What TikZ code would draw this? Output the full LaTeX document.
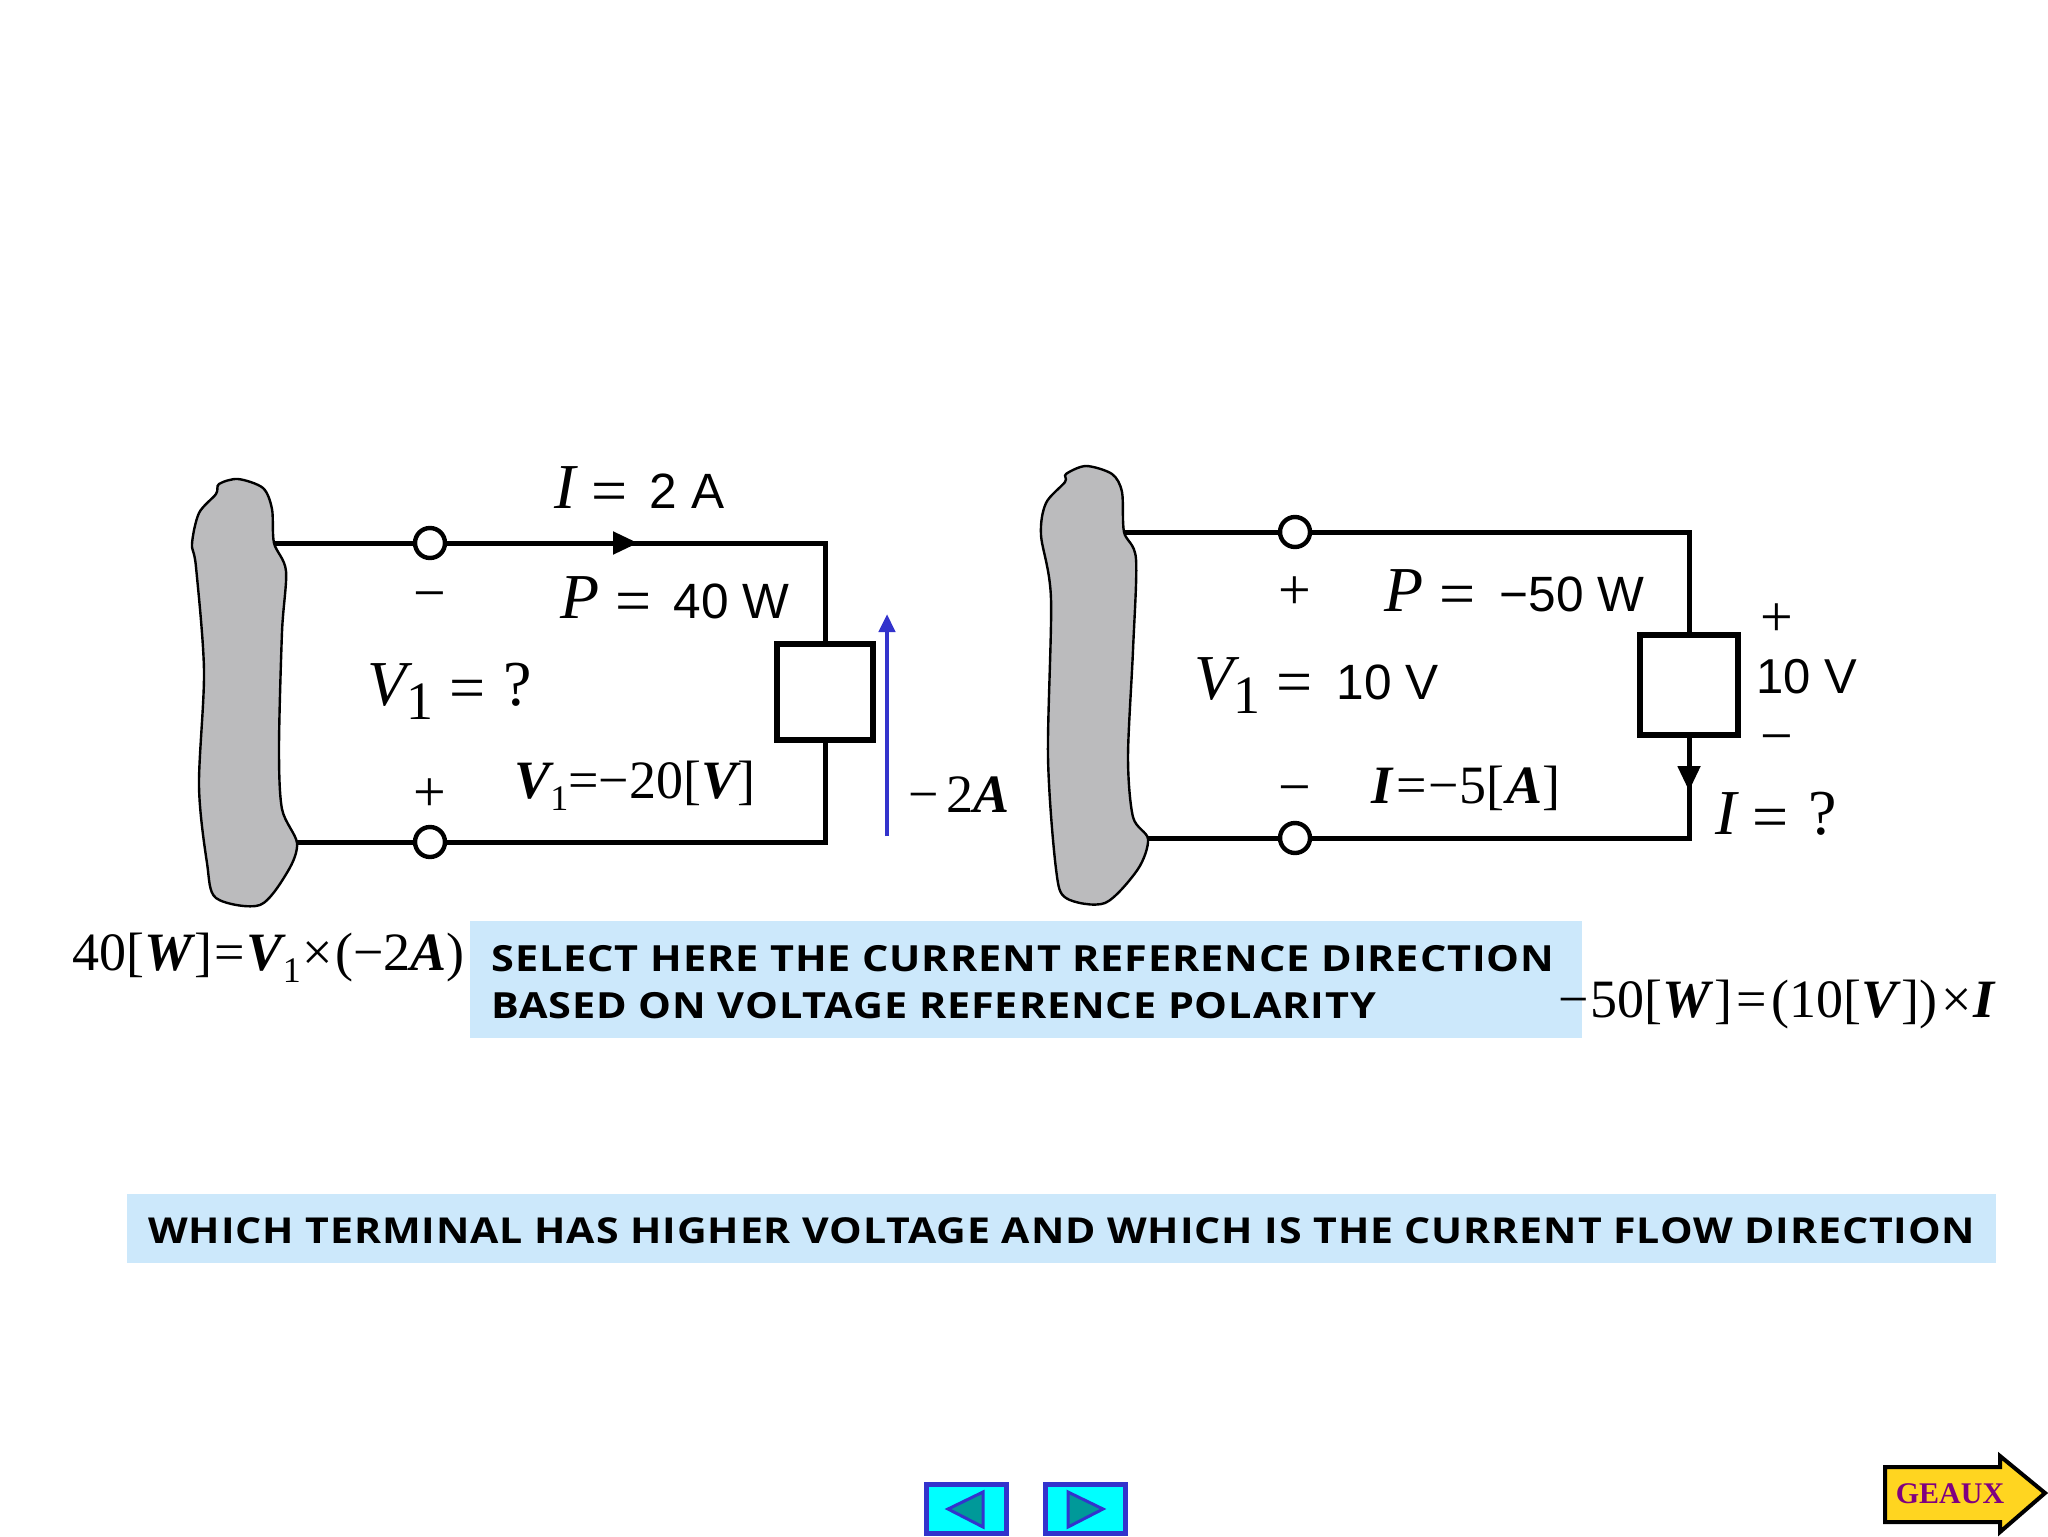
\documentclass[tikz,border=0pt]{standalone}
\usepackage{fontspec}
\setmainfont{Liberation Serif}
\setsansfont{Liberation Sans}
\newfontfamily\promptfont[FakeStretch=1.15,LetterSpace=2.5]{Open Sans}
\usetikzlibrary{arrows.meta}
\definecolor{blobgray}{HTML}{BBBBBD}
\definecolor{promptblue}{HTML}{CCE8FB}
\definecolor{arrowblue}{HTML}{3333CC}
\definecolor{navcyan}{HTML}{00FFFF}
\definecolor{navteal}{HTML}{009999}
\definecolor{geauxgold}{HTML}{FFD520}
\definecolor{geauxpurple}{HTML}{800080}
\newcommand{\bvar}[1]{{\bfseries\itshape #1}}
\newcommand{\subone}[2]{\raisebox{#1}{\fontsize{#2}{#2}\selectfont 1}}
\newcommand{\eqs}{\raisebox{-2pt}{\upshape=}}
\newcommand{\uni}[1]{{\fontsize{24.8}{28}\selectfont\sffamily\upshape #1}}
\tikzset{
	circuit/.style={
		x=0.5pt,y=-0.5pt,
		blob/.style={
			draw=black,
			line width=1.2pt,
			fill=blobgray
		},
		wire/.style={
			line width=2.5pt,
			line join=miter
		},
		wire arrow/.style={
			wire,
			-{Triangle[length=12.5pt,width=11pt]}
		},
		terminal/.style={
			circle,
			draw,
			fill=white,
			line width=2.2pt,
			minimum size=15pt,
			inner sep=0pt
		},
		element/.style={
			rectangle,
			draw,
			fill=white,
			line width=2.6pt,
			inner sep=0pt
		},
		sign/.style={
			inner sep=0pt,
			font=\fontsize{29}{30}\selectfont
		},
		big label/.style={
			anchor=base west,
			inner sep=0pt,
			font=\fontsize{32}{36}\selectfont\itshape
		},
		unit label/.style={
			anchor=base west,
			inner sep=0pt,
			font=\fontsize{24.5}{28}\selectfont\sffamily
		},
		sum label/.style={
			anchor=base west,
			inner sep=0pt,
			font=\fontsize{27}{30}\selectfont
		},
		prompt/.style={
			fill=promptblue,
			inner sep=0pt
		},
		prompt text/.style={
			anchor=base west,
			inner sep=0pt,
			align=left,
			font=\fontsize{##1}{23.5}\selectfont\promptfont\bfseries
		},
		nav button/.style={
			draw=arrowblue,
			fill=navcyan,
			line width=2.5pt
		},
		nav mark/.style={
			draw=arrowblue,
			fill=navteal,
			line width=1.5pt,
			line join=miter
		}
	}
}
\begin{document}
\begin{tikzpicture}[circuit]
	\useasboundingbox (0,0) rectangle (2048,1536);
	% prompts
	\fill[prompt] (470,921) rectangle (1582,1038);
	\node[prompt text=18] (selecttext) at (491,1018) {SELECT HERE THE CURRENT REFERENCE DIRECTION\\BASED ON VOLTAGE REFERENCE POLARITY};
	\fill[prompt] (127,1194) rectangle (1996,1263);
	\node[prompt text=17.85] (whichtext) at (148,1243) {WHICH TERMINAL HAS HIGHER VOLTAGE AND WHICH IS THE CURRENT FLOW DIRECTION};
	% left circuit
	\draw[blob] plot[smooth cycle,tension=0.5] coordinates {(238,479) (263,488) (272,509) (274,543) (286,571) (282,632) (279,748) (282,809) (297,843) (288,871) (260,905) (216,898) (207,863) (199,786) (204,671) (196,567) (192,544) (199,513) (216,494) (219,484)};
	\coordinate (lefttopend) at (274,543);
	\coordinate (leftbotend) at (297,842);
	\coordinate (lefttip) at (638,543);
	\coordinate (lefttopcorner) at (825,543);
	\coordinate (leftbotcorner) at (825,842);
	\node[element,minimum width=48pt,minimum height=48pt] (leftbox) at (825,692) {};
	\node[terminal] (lefttop) at (430,543) {};
	\node[terminal] (leftbot) at (430,842) {};
	\draw[wire] (lefttopend) -- (lefttop) -- (lefttopcorner) -- (leftbox.north);
	\draw[wire arrow] (lefttop) -- (lefttip);
	\draw[wire] (leftbotend) -- (leftbot) -- (leftbotcorner) -- (leftbox.south);
	\coordinate (bluestart) at (887,836);
	\coordinate (blueend) at (887,614);
	\draw[arrowblue,line width=2.2pt,-{Triangle[length=9pt,width=8pt]}] (bluestart) -- (blueend);
	\node[sign] (leftminus) at (430,602) {−};
	\node[sign] (leftplus) at (430,795) {+};
	\node[big label] (lefti) at (554,508) {I \eqs\kern3pt\ \uni{2 A}};
	\node[big label] (leftp) at (560,618) {P \eqs\kern3pt\ \uni{40 W}};
	\node[big label] (leftv) at (367,705) {V\raisebox{-7pt}{\upshape\fontsize{27}{28}\selectfont 1} {\eqs\ \kern1pt\upshape ?}};
	\node[sum label] (leftans) at (514,798) {\bvar{V}\subone{-6pt}{18}=−20[\bvar{V}]};
	\node[sum label] (leftcur) at (908,812) {−\kern4pt 2\bvar{A}};
	\node[sum label] (leftsum) at (72,970) {40[\bvar{W}\kern1pt]\kern1pt=\kern1pt\bvar{V}\subone{-6pt}{18}\kern1pt×\kern1pt(−2\bvar{A})};
	% right circuit
	\draw[blob] plot[smooth cycle,tension=0.5] coordinates {(1086,466) (1112,474) (1122,492) (1124,532) (1136,559) (1133,650) (1128,757) (1133,817) (1148,839) (1138,869) (1105,903) (1066,898) (1056,869) (1048,757) (1051,599) (1041,535) (1046,503) (1065,482) (1066,474)};
	\coordinate (righttopend) at (1124,532);
	\coordinate (rightbotend) at (1148,838);
	\coordinate (righttip) at (1689,791);
	\coordinate (righttopcorner) at (1689,532);
	\coordinate (rightbotcorner) at (1689,838);
	\node[element,minimum width=49pt,minimum height=50pt] (rightbox) at (1689,685) {};
	\node[terminal] (righttop) at (1295,532) {};
	\node[terminal] (rightbot) at (1295,838) {};
	\draw[wire] (righttopend) -- (righttop) -- (righttopcorner) -- (rightbox.north);
	\draw[wire] (rightbotend) -- (rightbot) -- (rightbotcorner) -- (rightbox.south);
	\draw[wire arrow] (rightbox.south) -- (righttip);
	\node[sign] (rightplus) at (1295,593) {+};
	\node[sign] (rightminus) at (1295,796) {−};
	\node[sign] (vplus) at (1777,620) {+};
	\node[sign] (vminus) at (1777,745) {−};
	\node[big label] (rightp) at (1384,611) {P \eqs\kern4pt\ \uni{−50 W}};
	\node[big label] (rightv) at (1194,699) {V\raisebox{-7pt}{\upshape\fontsize{27}{28}\selectfont 1} \eqs\kern4pt\ \uni{10 V}};
	\node[unit label] (rightvolt) at (1756,693) {10 V};
	\node[big label] (righti) at (1715,834) {I \eqs\ \kern2pt{\upshape ?}};
	\node[sum label] (rightans) at (1371,803) {\bvar{I}\kern2pt=\kern1pt−5[\kern1pt\bvar{A}]};
	\node[sum label] (rightsum) at (1558,1017) {−\kern1pt 50[\bvar{W}\kern2pt]\kern2pt=\kern2pt(10[\bvar{V}\kern2pt])\kern2pt×\kern1pt\bvar{I}};
	% navigation
	\draw[nav button] (926,1484) rectangle (1006,1533);
	\draw[nav mark] (948,1509) -- (983,1492) -- (983,1527) -- cycle;
	\draw[nav button] (1045,1484) rectangle (1125,1533);
	\draw[nav mark] (1103,1509) -- (1068,1492) -- (1068,1527) -- cycle;
	\draw[black,fill=geauxgold,line width=2pt,line join=miter] (1885,1467) -- (2000,1467) -- (2000,1456) -- (2045,1493) -- (2000,1532) -- (2000,1522) -- (1885,1522) -- cycle;
	\node[inner sep=0pt,text=geauxpurple,font=\fontsize{15}{16}\selectfont\bfseries] (geaux) at (1950,1494) {GEAUX};
\end{tikzpicture}
\end{document}
